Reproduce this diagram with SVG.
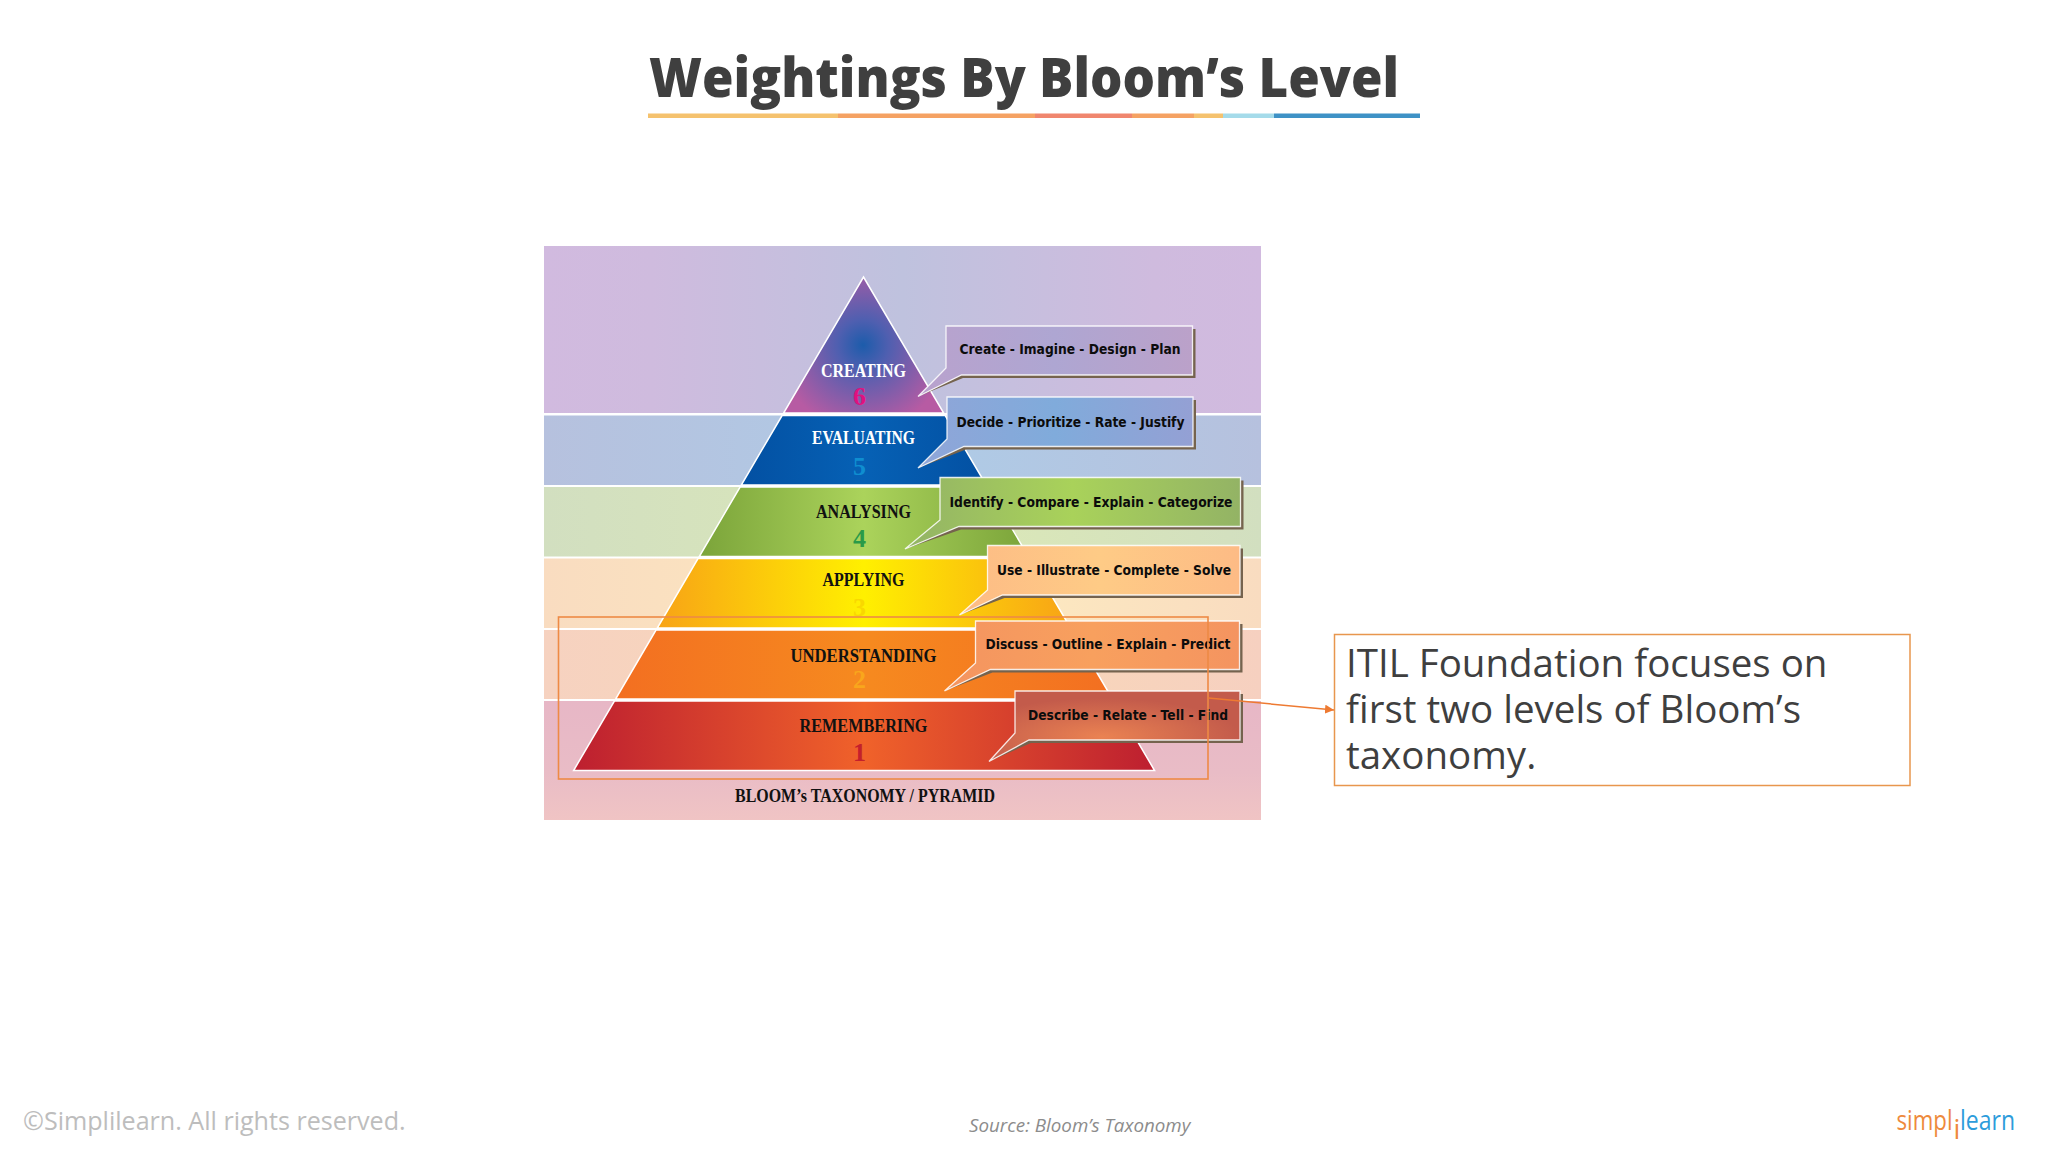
<svg xmlns="http://www.w3.org/2000/svg" width="2048" height="1152" viewBox="0 0 2048 1152">
<style>
.tl{font-family:"Liberation Serif",serif;font-weight:bold;font-size:18px;text-anchor:middle}
.n{font-family:"Liberation Serif",serif;font-weight:bold;font-size:26px;text-anchor:middle}
.ct{font-family:"DejaVu Sans",sans-serif;font-weight:bold;font-size:13.8px;text-anchor:middle;fill:#0c0c0c}
.cb{stroke:#fff;stroke-width:1.3;stroke-linejoin:miter;stroke-opacity:.85}
.sh{fill:#75634e}
.tier{stroke:#fff;stroke-width:1.5}
.os{font-family:"Open Sans",sans-serif}
</style>
<defs>
<linearGradient id="b1"><stop offset="0" stop-color="#d1badf"/><stop offset=".15" stop-color="#cfbbde"/><stop offset=".5" stop-color="#bfc2de"/><stop offset=".85" stop-color="#cfbbde"/><stop offset="1" stop-color="#d1badf"/></linearGradient>
<linearGradient id="b2"><stop offset="0" stop-color="#b6c1de"/><stop offset=".55" stop-color="#afcbe6"/><stop offset="1" stop-color="#b6c1de"/></linearGradient>
<linearGradient id="b3"><stop offset="0" stop-color="#d2dfc0"/><stop offset=".6" stop-color="#dbe8b8"/><stop offset="1" stop-color="#d2dfc0"/></linearGradient>
<linearGradient id="b4"><stop offset="0" stop-color="#f9dcc0"/><stop offset=".6" stop-color="#fdebc0"/><stop offset="1" stop-color="#f9dcc0"/></linearGradient>
<linearGradient id="b5"><stop offset="0" stop-color="#f6d2c0"/><stop offset=".6" stop-color="#f9d8b8"/><stop offset="1" stop-color="#f6d0c0"/></linearGradient>
<linearGradient id="b6" x1="0" y1="0" x2="0" y2="1"><stop offset="0" stop-color="#e7b7c6"/><stop offset=".6" stop-color="#e9bcc6"/><stop offset="1" stop-color="#f0c4c4"/></linearGradient>
<radialGradient id="t1" gradientUnits="userSpaceOnUse" cx="863" cy="345" r="85"><stop offset="0" stop-color="#1c5cab"/><stop offset=".3" stop-color="#4f5fb0"/><stop offset="1" stop-color="#b75ba3"/></radialGradient>
<linearGradient id="t2"><stop offset="0" stop-color="#0350a2"/><stop offset=".5" stop-color="#0661b5"/><stop offset="1" stop-color="#0350a2"/></linearGradient>
<linearGradient id="t3"><stop offset="0" stop-color="#7ba43a"/><stop offset=".5" stop-color="#abd35b"/><stop offset="1" stop-color="#7ba43a"/></linearGradient>
<linearGradient id="t4"><stop offset="0" stop-color="#f8a316"/><stop offset=".5" stop-color="#fff000"/><stop offset="1" stop-color="#f8a316"/></linearGradient>
<linearGradient id="t5"><stop offset="0" stop-color="#f36f21"/><stop offset=".5" stop-color="#f68a1f"/><stop offset="1" stop-color="#f36f21"/></linearGradient>
<linearGradient id="t6"><stop offset="0" stop-color="#bd1f30"/><stop offset=".5" stop-color="#f0622a"/><stop offset="1" stop-color="#bd1f30"/></linearGradient>
<linearGradient id="c1"><stop offset="0" stop-color="#b9a2cd"/><stop offset=".5" stop-color="#aea6d2"/><stop offset="1" stop-color="#bba1c9"/></linearGradient>
<linearGradient id="c2"><stop offset="0" stop-color="#90a5d8"/><stop offset=".5" stop-color="#80abdb"/><stop offset="1" stop-color="#94a0d4"/></linearGradient>
<linearGradient id="c3"><stop offset="0" stop-color="#93b365"/><stop offset=".5" stop-color="#a9d25a"/><stop offset="1" stop-color="#93b365"/></linearGradient>
<linearGradient id="c4"><stop offset="0" stop-color="#fdbb85"/><stop offset=".5" stop-color="#fecb86"/><stop offset="1" stop-color="#fdbb85"/></linearGradient>
<linearGradient id="c5"><stop offset="0" stop-color="#f49460"/><stop offset=".5" stop-color="#f8a05e"/><stop offset="1" stop-color="#f49460"/></linearGradient>
<radialGradient id="c6" cx=".45" cy=".65" r=".55"><stop offset="0" stop-color="#ea8252"/><stop offset="1" stop-color="#c35b4b"/></radialGradient>
<marker id="ah" markerUnits="userSpaceOnUse" markerWidth="10" markerHeight="10" refX="9" refY="4.5" orient="auto"><path d="M0 0L9 4.5L0 9Z" fill="#ee7a32"/></marker>
</defs>
<rect width="2048" height="1152" fill="#fff"/>
<g id="title">
<text class="os" x="649" y="97" font-size="54" font-weight="800" fill="#3f3f3f" textLength="750" lengthAdjust="spacingAndGlyphs">Weightings By Bloom’s Level</text>
<rect x="648" y="113.500" width="190" height="4.500" fill="#f5c26e"/>
<rect x="838" y="113.500" width="197" height="4.500" fill="#f5a263"/>
<rect x="1035" y="113.500" width="97" height="4.500" fill="#f0866e"/>
<rect x="1132" y="113.500" width="62" height="4.500" fill="#f5a263"/>
<rect x="1194" y="113.500" width="29" height="4.500" fill="#f5c26e"/>
<rect x="1223" y="113.500" width="51" height="4.500" fill="#a5dbea"/>
<rect x="1274" y="113.500" width="146" height="4.500" fill="#3e92c6"/>
</g>
<g id="bands">
<rect x="544" y="246" width="717" height="574" fill="#fff"/>
<rect x="544" y="246" width="717" height="167" fill="url(#b1)"/>
<rect x="544" y="415.500" width="717" height="69.500" fill="url(#b2)"/>
<rect x="544" y="487" width="717" height="69.500" fill="url(#b3)"/>
<rect x="544" y="558.500" width="717" height="69.500" fill="url(#b4)"/>
<rect x="544" y="630" width="717" height="69" fill="url(#b5)"/>
<rect x="544" y="701" width="717" height="119" fill="url(#b6)"/>
</g>
<g id="tier-creating">
<path class="tier" d="M863.500 277L943.700 413L783.600 413Z" fill="url(#t1)"/>
<text class="tl" x="863.500" y="376.500" fill="#fff" textLength="85" lengthAdjust="spacingAndGlyphs">CREATING</text>
<text class="n" x="859.500" y="405" fill="#e0117f">6</text>
</g>
<g id="tier-evaluating">
<path class="tier" d="M782.100 415.500L945.200 415.500L986.200 485L741.300 485Z" fill="url(#t2)"/>
<text class="tl" x="863.500" y="444" fill="#fff" textLength="103" lengthAdjust="spacingAndGlyphs">EVALUATING</text>
<text class="n" x="859.500" y="475" fill="#0f8ed0">5</text>
</g>
<g id="tier-analysing">
<path class="tier" d="M740.100 487L987.400 487L1028.400 556.500L699.300 556.500Z" fill="url(#t3)"/>
<text class="tl" x="863.500" y="518" fill="#111" textLength="95" lengthAdjust="spacingAndGlyphs">ANALYSING</text>
<text class="n" x="859.500" y="546.500" fill="#2a9a48">4</text>
</g>
<g id="tier-applying">
<path class="tier" d="M698 558.500L1029.600 558.500L1070.600 628L657.300 628Z" fill="url(#t4)"/>
<text class="tl" x="863.500" y="585.500" fill="#111" textLength="82" lengthAdjust="spacingAndGlyphs">APPLYING</text>
<text class="n" x="859.500" y="616" fill="#f9d800">3</text>
</g>
<g id="tier-understanding">
<path class="tier" d="M656 630L1071.800 630L1112.500 699L615.600 699Z" fill="url(#t5)"/>
<text class="tl" x="863.500" y="662" fill="#111" textLength="146" lengthAdjust="spacingAndGlyphs">UNDERSTANDING</text>
<text class="n" x="859.500" y="688" fill="#f9a61c">2</text>
</g>
<g id="tier-remembering">
<path class="tier" d="M614.400 701L1113.700 701L1154.600 770.500L573.600 770.500Z" fill="url(#t6)"/>
<text class="tl" x="863.500" y="732" fill="#111" textLength="128" lengthAdjust="spacingAndGlyphs">REMEMBERING</text>
<text class="n" x="859.500" y="760.500" fill="#c4202c">1</text>
</g>
<g id="pyramid-caption"><text class="tl" x="865" y="801.500" fill="#111" textLength="260" lengthAdjust="spacingAndGlyphs">BLOOM’s TAXONOMY / PYRAMID</text></g>
<g id="callout-create">
<path class="sh" d="M949 329H1195.500V378H963L918 396.500L961.500 375Z"/>
<path class="cb" fill="url(#c1)" d="M946 326H1192.500V375H961.500L918 396.500L946 368Z"/>
<text class="ct" x="1070" y="354" textLength="221" lengthAdjust="spacingAndGlyphs">Create - Imagine - Design - Plan</text>
</g>
<g id="callout-decide">
<path class="sh" d="M950 400H1196V449.500H966L918 468L964 446.500Z"/>
<path class="cb" fill="url(#c2)" d="M947 397H1193V446.500H964L918 468L947 439Z"/>
<text class="ct" x="1070.500" y="426.500" textLength="228" lengthAdjust="spacingAndGlyphs">Decide - Prioritize - Rate - Justify</text>
</g>
<g id="callout-identify">
<path class="sh" d="M943 480.500H1243.500V529.500H961L905 549L959 526.500Z"/>
<path class="cb" fill="url(#c3)" d="M940 477.500H1240.500V526.500H959L905 549L940 520Z"/>
<text class="ct" x="1091" y="507" textLength="283" lengthAdjust="spacingAndGlyphs">Identify - Compare - Explain - Categorize</text>
</g>
<g id="callout-use">
<path class="sh" d="M990.500 548.500H1243V598H1004.500L959.500 615L1002.500 595Z"/>
<path class="cb" fill="url(#c4)" d="M987.500 545.500H1240V595H1002.500L959.500 615L987.500 590Z"/>
<text class="ct" x="1114" y="575" textLength="234" lengthAdjust="spacingAndGlyphs">Use - Illustrate - Complete - Solve</text>
</g>
<g id="callout-discuss">
<path class="sh" d="M978.500 624H1242.500V672.500H992.500L944.500 691L990.500 669.500Z"/>
<path class="cb" fill="url(#c5)" d="M975.500 621H1239.500V669.500H990.500L944.500 691L975.500 663Z"/>
<text class="ct" x="1108" y="649" textLength="245" lengthAdjust="spacingAndGlyphs">Discuss - Outline - Explain - Predict</text>
</g>
<g id="callout-describe">
<path class="sh" d="M1018 694H1243V743H1031L989 761.500L1029 740Z"/>
<path class="cb" fill="url(#c6)" d="M1015 691H1240V740H1029L989 761.500L1015 733Z"/>
<text class="ct" x="1128" y="720" textLength="200" lengthAdjust="spacingAndGlyphs">Describe - Relate - Tell - Find</text>
</g>
<g id="highlight-box"><rect x="558.500" y="617" width="649.500" height="162" fill="none" stroke="#ee8a45" stroke-width="1.600"/></g>
<g id="connectors"><path d="M1208.500 698L1334 710" fill="none" stroke="#ee7a32" stroke-width="1.500" marker-end="url(#ah)"/></g>
<g id="note">
<rect x="1334.500" y="634.500" width="575.500" height="151" fill="#fff" stroke="#e8964e" stroke-width="1.500"/>
<text class="os" font-size="38.500" fill="#3f3f3f"><tspan x="1346" y="677">ITIL Foundation focuses on</tspan><tspan x="1346" y="723">first two levels of Bloom’s</tspan><tspan x="1346" y="769">taxonomy.</tspan></text>
</g>
<g id="footer">
<text class="os" x="23" y="1129.500" font-size="25.100" fill="#bdbdbd">©Simplilearn. All rights reserved.</text>
<text class="os" x="969" y="1131.500" font-size="18.800" font-style="italic" fill="#8c8c8c">Source: Bloom’s Taxonomy</text>
</g>
<g id="logo" font-family="'Open Sans',sans-serif" font-size="27">
<text x="1896.500" y="1130" fill="#ee8a3c" textLength="56" lengthAdjust="spacingAndGlyphs">simpl</text>
<text x="1953.500" y="1139" fill="#ee8a3c">i</text>
<text x="1960" y="1130" fill="#2d9cdb" textLength="55" lengthAdjust="spacingAndGlyphs">learn</text>
</g>
</svg>
